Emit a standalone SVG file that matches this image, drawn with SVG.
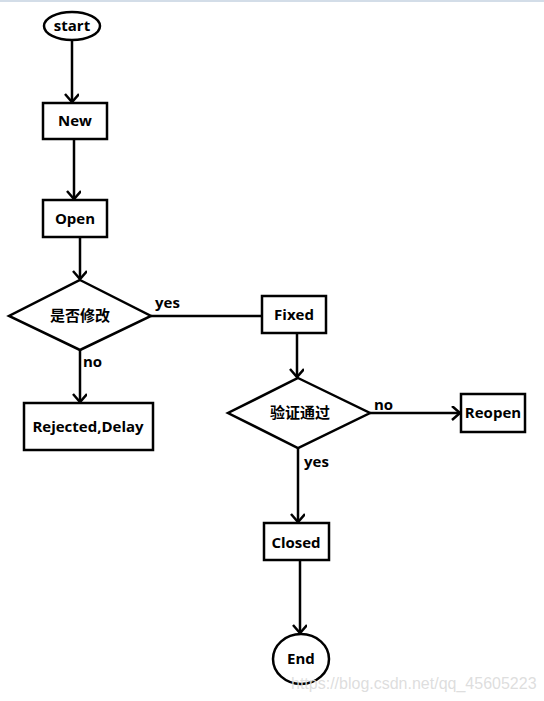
<svg xmlns="http://www.w3.org/2000/svg" width="544" height="701" viewBox="0 0 544 701">
<style>
.n{fill:#fff;stroke:#000;stroke-width:2.5}
.t{font-family:"Open Sans","Noto Sans","Noto Sans CJK SC",sans-serif;font-weight:bold;font-size:15px;fill:#000;text-anchor:middle}
.l{font-family:"Open Sans","Noto Sans",sans-serif;font-weight:bold;font-size:15px;fill:#000}
.c{fill:none;stroke:#000;stroke-width:2.5}
</style>
<defs>
<marker id="a" markerUnits="userSpaceOnUse" markerWidth="16" markerHeight="16" refX="9" refY="7" orient="auto" viewBox="0 0 16 16">
<path d="M1,0 L9,7 L1,14" fill="none" stroke="#000" stroke-width="2.5"/>
</marker>
</defs>
<rect x="0" y="0" width="544" height="701" fill="#fff"/>
<rect x="0" y="0" width="544" height="2" fill="#d3dde8"/>
<g id="connectors">
<line class="c" x1="72" y1="40" x2="72" y2="102" marker-end="url(#a)"/>
<line class="c" x1="74" y1="139" x2="74" y2="199" marker-end="url(#a)"/>
<line class="c" x1="80" y1="237" x2="80" y2="279" marker-end="url(#a)"/>
<line class="c" x1="151" y1="316" x2="262" y2="316"/>
<line class="c" x1="80" y1="350" x2="80" y2="402" marker-end="url(#a)"/>
<line class="c" x1="297" y1="333" x2="297" y2="377" marker-end="url(#a)"/>
<line class="c" x1="370" y1="413" x2="460" y2="413" marker-end="url(#a)"/>
<line class="c" x1="298" y1="448" x2="298" y2="522" marker-end="url(#a)"/>
<line class="c" x1="300" y1="560" x2="300" y2="633" marker-end="url(#a)"/>
<text class="l" x="155" y="308">yes</text>
<text class="l" x="83" y="367">no</text>
<text class="l" x="374" y="410">no</text>
<text class="l" x="304" y="467">yes</text>
</g>
<g id="start"><ellipse class="n" cx="72" cy="26" rx="28" ry="14"/><text class="t" x="72" y="31">start</text></g>
<g id="new"><rect class="n" x="43" y="103" width="64" height="36"/><text class="t" x="75" y="126">New</text></g>
<g id="open"><rect class="n" x="43" y="200" width="64" height="37"/><text class="t" x="75" y="224">Open</text></g>
<g id="modify"><polygon class="n" points="80,280 151,316 80,350 9,316"/><text class="t" x="80" y="321">是否修改</text></g>
<g id="fixed"><rect class="n" x="262" y="296" width="64" height="37"/><text class="t" x="294" y="320">Fixed</text></g>
<g id="rejected"><rect class="n" x="24" y="403" width="129" height="47"/><text class="t" x="88" y="432">Rejected,Delay</text></g>
<g id="verify"><polygon class="n" points="298,378 370,413 298,448 228,413"/><text class="t" x="300" y="418">验证通过</text></g>
<g id="reopen"><rect class="n" x="461" y="394" width="64" height="38"/><text class="t" x="493" y="418">Reopen</text></g>
<g id="closed"><rect class="n" x="264" y="523" width="65" height="37"/><text class="t" x="296" y="548">Closed</text></g>
<g id="end"><ellipse class="n" cx="301" cy="659" rx="28" ry="25"/><text class="t" x="301" y="664">End</text></g>
<text x="291" y="689" font-family="Liberation Sans,Arial,sans-serif" font-size="16" fill="#dadada" fill-opacity="0.9">https://blog.csdn.net/qq_45605223</text>
</svg>
